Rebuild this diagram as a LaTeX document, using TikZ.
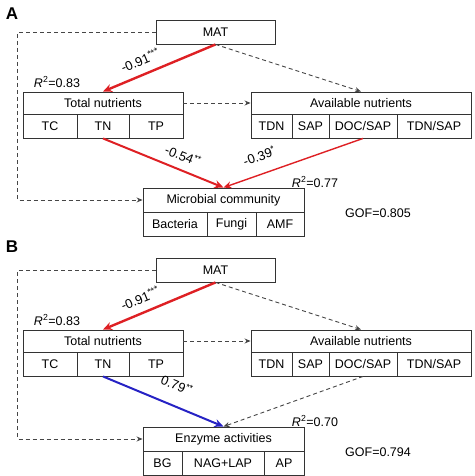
\documentclass[tikz,border=0pt]{standalone}
\usepackage{fontspec}
\setmainfont{Liberation Sans}
\usetikzlibrary{arrows.meta}

\definecolor{pathred}{RGB}{222,32,36}
\definecolor{pathblue}{RGB}{38,34,196}
\definecolor{nsgray}{RGB}{70,70,70}

\begin{document}
\begin{tikzpicture}[x=1pt, y=-1pt, font=\fontsize{12.5}{15}\selectfont,
    box/.style={draw=black!80, line width=0.9pt, inner sep=0pt, minimum height=24pt},
    head/.style={box, minimum height=22pt},
    nsdash/.style={draw=nsgray, line width=0.9pt, dash pattern=on 4pt off 3pt, -{Stealth[length=6pt,width=5pt]}},
    sigred/.style={draw=pathred, line width=2.4pt, -{Stealth[length=9pt,width=8pt]}},
    weakred/.style={draw=pathred, line width=1.4pt, -{Stealth[length=8pt,width=7pt]}},
    sigblue/.style={draw=pathblue, line width=2pt, -{Stealth[length=9pt,width=8pt]}},
    coef/.style={sloped, above=7pt, inner sep=1pt, font=\fontsize{13}{15}\selectfont},
    letter/.style={font=\fontsize{17}{20}\selectfont\bfseries}]

    \useasboundingbox (0,0) rectangle (474,476);

    % --- Panel A: microbial community ---
    \begin{scope}
        % Boxen
        \node[box, minimum width=119pt] (matA) at (215.5,32) {MAT};

        \node[head, minimum width=160pt] (totA) at (103,103) {Total nutrients};
        \node[box, minimum width=54pt] (tcA) at (50,126) {TC};
        \node[box, minimum width=52pt] (tnA) at (103,126) {TN};
        \node[box, minimum width=54pt] (tpA) at (156,126) {TP};

        \node[head, minimum width=220pt] (avA) at (361,103) {Available nutrients};
        \node[box, minimum width=41pt] (tdnA) at (271.5,126) {TDN};
        \node[box, minimum width=37pt] (sapA) at (310.5,126) {SAP};
        \node[box, minimum width=68pt] (dsA) at (363,126) {DOC/SAP};
        \node[box, minimum width=74pt] (tsA) at (434,126) {TDN/SAP};

        \node[box, minimum width=161pt] (micA) at (223.5,200) {Microbial community};
        \node[box, minimum width=64pt] (bacA) at (175,224) {Bacteria};
        \node[box, minimum width=49pt] (funA) at (231.5,224) {Fungi};
        \node[box, minimum width=48pt] (amfA) at (280,224) {AMF};

        % Pfade
        \draw[sigred] (matA.south) -- node[coef, pos=0.62] {-0.91\textsuperscript{***}} (totA.north);
        \draw[nsdash] (matA.south) -- (avA.north);
        \draw[nsdash] (totA.east) -- (avA.west);
        \draw[nsdash] (matA.west) -- ++(-138,0) |- (micA.west);
        \draw[sigred, line width=2pt] (tnA.south) -- node[coef, pos=0.62] {-0.54\textsuperscript{**}} (micA.north);
        \draw[weakred] (dsA.south) -- node[coef, pos=0.70, above=4pt] {-0.39\textsuperscript{*}} (micA.north);

        % Kennwerte
        \node (r2totA) at (57,82) {\textit{R}\textsuperscript{2}=0.83};
        \node (r2micA) at (315,182) {\textit{R}\textsuperscript{2}=0.77};
        \node (gofA) at (378,213) {GOF=0.805};
    \end{scope}

    % --- Panel B: enzyme activities ---
    \begin{scope}[shift={(0,238)}]
        \node[box, minimum width=119pt] (matB) at (215.5,32) {MAT};

        \node[head, minimum width=160pt] (totB) at (103,103) {Total nutrients};
        \node[box, minimum width=54pt] (tcB) at (50,126) {TC};
        \node[box, minimum width=52pt] (tnB) at (103,126) {TN};
        \node[box, minimum width=54pt] (tpB) at (156,126) {TP};

        \node[head, minimum width=220pt] (avB) at (361,103) {Available nutrients};
        \node[box, minimum width=41pt] (tdnB) at (271.5,126) {TDN};
        \node[box, minimum width=37pt] (sapB) at (310.5,126) {SAP};
        \node[box, minimum width=68pt] (dsB) at (363,126) {DOC/SAP};
        \node[box, minimum width=74pt] (tsB) at (434,126) {TDN/SAP};

        \node[box, minimum width=161pt] (enzB) at (223.5,201) {Enzyme activities};
        \node[box, minimum width=39pt] (bgB) at (162.5,225) {BG};
        \node[box, minimum width=82pt] (nagB) at (223,225) {NAG+LAP};
        \node[box, minimum width=40pt] (apB) at (284,225) {AP};

        \draw[sigred] (matB.south) -- node[coef, pos=0.62] {-0.91\textsuperscript{***}} (totB.north);
        \draw[nsdash] (matB.south) -- (avB.north);
        \draw[nsdash] (totB.east) -- (avB.west);
        \draw[nsdash] (matB.west) -- ++(-138,0) |- (enzB.west);
        \draw[sigblue] (tnB.south) -- node[coef, pos=0.55, above=6pt] {0.79\textsuperscript{**}} (enzB.north);
        \draw[nsdash] (dsB.south) -- (enzB.north);

        \node (r2totB) at (57,82) {\textit{R}\textsuperscript{2}=0.83};
        \node (r2enzB) at (315,183) {\textit{R}\textsuperscript{2}=0.70};
        \node (gofB) at (378,214) {GOF=0.794};
    \end{scope}

    \node[letter] (labA) at (12,14) {A};
    \node[letter] (labB) at (12,247) {B};

\end{tikzpicture}
\end{document}
